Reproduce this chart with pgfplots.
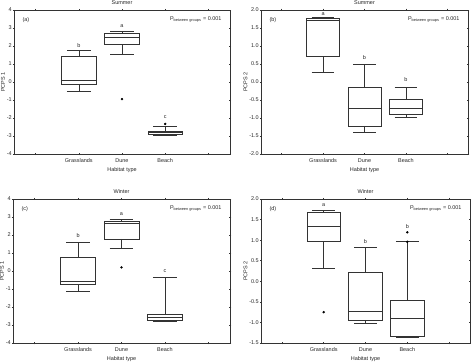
\documentclass[border=0pt]{standalone}
\usepackage{fontspec}
\setmainfont{Liberation Sans}
\usepackage{pgfplots}
\pgfplotsset{compat=1.18}
\usepgfplotslibrary{statistics}
\newcommand{\sz}{\fontsize{5.5}{6.5}\selectfont}
\tikzset{lt/.style={font=\sz, black!85}}
\pgfplotsset{
 panel/.style={
  scale only axis, height=144bp, anchor=south west,
  xmin=-0.5, xmax=4.5, xtick={0,1,2,3,4}, xticklabels={,Grasslands,Dune,Beach,},
  tick align=center, major tick length=2.5bp,
  tick label style={font=\sz, black!85},
  label style={font=\sz, black!85},
  title style={font=\sz, black!85, yshift=-4.5bp},
  xlabel={Habitat type},
  /pgf/number format/assume math mode=true,
  axis line style={black!80, line width=0.6pt},
  every tick/.style={black!80, line width=0.5pt},
  xlabel style={yshift=2bp},
  yticklabel style={xshift=2.5bp},
  ylabel style={yshift=-5bp},
  boxplot/draw direction=y,
  boxplot/box extend=0.8,
  boxplot/whisker extend=0.55,
  clip=false,
 },
 bx/.style={black!80, line width=0.6pt, solid, mark=*, mark size=0.9pt, mark options={fill=black, draw=black}},
}
\begin{document}
\begin{tikzpicture}
\useasboundingbox (0,0) rectangle (474bp,363bp);
% (a)
\begin{axis}[panel, at={(14bp,209bp)}, width=216bp, ymin=-4, ymax=4, ytick={-4,-3,...,4},
  title={Summer}, ylabel={PCPS 1}]
\addplot[bx, boxplot prepared={draw position=1, lower whisker=-0.54, lower quartile=-0.15, median=0.09, upper quartile=1.45, upper whisker=1.75}] coordinates {};
\addplot[bx, boxplot prepared={draw position=2, lower whisker=1.56, lower quartile=2.1, median=2.51, upper quartile=2.72, upper whisker=2.79}] table[row sep=\\, y index=0] {y\\ -0.95\\};
\addplot[bx, boxplot prepared={draw position=3, lower whisker=-2.96, lower quartile=-2.93, median=-2.82, upper quartile=-2.72, upper whisker=-2.44}] table[row sep=\\, y index=0] {y\\ -2.33\\};
\node[lt] at (axis cs:1,2.05) {b};
\node[lt] at (axis cs:2,3.1) {a};
\node[lt] at (axis cs:3,-1.92) {c};
\node[lt, anchor=north west] at ([xshift=5bp,yshift=-4bp]rel axis cs:0,1) {(a)};
\node[lt, anchor=north east] at ([xshift=-5bp,yshift=-3bp]rel axis cs:1,1) {P\textsubscript{between groups} = 0.001};
\end{axis}
% (b)
\begin{axis}[panel, at={(261bp,209bp)}, width=207bp, ymin=-2, ymax=2, ytick={-2,-1.5,...,2},
  yticklabel style={/pgf/number format/.cd, fixed, fixed zerofill, precision=1},
  title={Summer}, ylabel={PCPS 2}]
\addplot[bx, boxplot prepared={draw position=1, lower whisker=0.28, lower quartile=0.70, median=1.71, upper quartile=1.76, upper whisker=1.79}] coordinates {};
\addplot[bx, boxplot prepared={draw position=2, lower whisker=-1.39, lower quartile=-1.22, median=-0.73, upper quartile=-0.16, upper whisker=0.50}] coordinates {};
\addplot[bx, boxplot prepared={draw position=3, lower whisker=-0.97, lower quartile=-0.91, median=-0.73, upper quartile=-0.49, upper whisker=-0.14}] coordinates {};
\node[lt] at (axis cs:1,1.89) {a};
\node[lt] at (axis cs:2,0.69) {b};
\node[lt] at (axis cs:3,0.07) {b};
\node[lt, anchor=north west] at ([xshift=5bp,yshift=-4bp]rel axis cs:0,1) {(b)};
\node[lt, anchor=north east] at ([xshift=-5bp,yshift=-3bp]rel axis cs:1,1) {P\textsubscript{between groups} = 0.001};
\end{axis}
% (c)
\begin{axis}[panel, at={(13bp,20bp)}, width=217bp, ymin=-4, ymax=4, ytick={-4,-3,...,4},
  title={Winter}, ylabel={PCPS 1}]
\addplot[bx, boxplot prepared={draw position=1, lower whisker=-1.11, lower quartile=-0.74, median=-0.59, upper quartile=0.76, upper whisker=1.61}] coordinates {};
\addplot[bx, boxplot prepared={draw position=2, lower whisker=1.24, lower quartile=1.78, median=2.63, upper quartile=2.78, upper whisker=2.85}] table[row sep=\\, y index=0] {y\\ 0.20\\};
\addplot[bx, boxplot prepared={draw position=3, lower whisker=-2.80, lower quartile=-2.74, median=-2.57, upper quartile=-2.41, upper whisker=-0.35}] coordinates {};
\node[lt] at (axis cs:1,1.96) {b};
\node[lt] at (axis cs:2,3.17) {a};
\node[lt] at (axis cs:3,-0.02) {c};
\node[lt, anchor=north west] at ([xshift=5bp,yshift=-4bp]rel axis cs:0,1) {(c)};
\node[lt, anchor=north east] at ([xshift=-5bp,yshift=-3bp]rel axis cs:1,1) {P\textsubscript{between groups} = 0.001};
\end{axis}
% (d)
\begin{axis}[panel, at={(261bp,20bp)}, width=209bp, ymin=-1.5, ymax=2, ytick={-1.5,-1,...,2},
  yticklabel style={/pgf/number format/.cd, fixed, fixed zerofill, precision=1},
  title={Winter}, ylabel={PCPS 2}]
\addplot[bx, boxplot prepared={draw position=1, lower whisker=0.31, lower quartile=0.97, median=1.34, upper quartile=1.67, upper whisker=1.72}] table[row sep=\\, y index=0] {y\\ -0.75\\};
\addplot[bx, boxplot prepared={draw position=2, lower whisker=-1.03, lower quartile=-0.95, median=-0.72, upper quartile=0.22, upper whisker=0.83}] coordinates {};
\addplot[bx, boxplot prepared={draw position=3, lower whisker=-1.36, lower quartile=-1.34, median=-0.90, upper quartile=-0.47, upper whisker=0.96}] table[row sep=\\, y index=0] {y\\ 1.19\\ 0.96\\};
\node[lt] at (axis cs:1,1.86) {a};
\node[lt] at (axis cs:2,0.97) {b};
\node[lt] at (axis cs:3,1.33) {b};
\node[lt, anchor=north west] at ([xshift=5bp,yshift=-4bp]rel axis cs:0,1) {(d)};
\node[lt, anchor=north east] at ([xshift=-5bp,yshift=-3bp]rel axis cs:1,1) {P\textsubscript{between groups} = 0.001};
\end{axis}
\end{tikzpicture}
\end{document}
